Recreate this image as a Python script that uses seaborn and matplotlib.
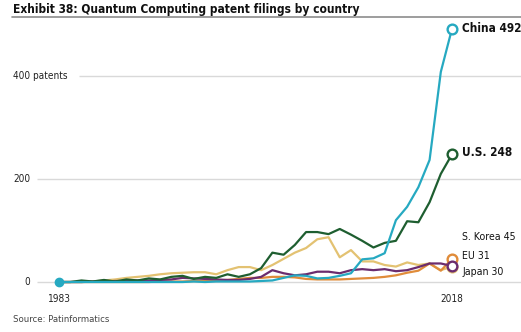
import matplotlib
matplotlib.use("Agg")
import matplotlib.pyplot as plt
import matplotlib.transforms as mtransforms
import seaborn as sns
import pandas as pd

# Annual quantum computing patent filings, 1983-2018
years = list(range(1983, 2019))
china = [0, 0, 0, 0, 0, 0, 0, 0, 0, 0, 0, 0, 1, 0, 1, 1, 1, 1, 2, 3,
         8, 13, 12, 7, 8, 12, 17, 44, 46, 56, 120, 146, 184, 237, 408, 492]
us = [0, 0, 3, 1, 4, 1, 5, 3, 7, 5, 10, 12, 6, 10, 8, 15, 10, 15, 27, 57,
      53, 72, 97, 97, 93, 103, 92, 80, 67, 76, 80, 118, 116, 155, 210, 248]
korea = [0, 0, 0, 0, 0, 0, 0, 0, 0, 1, 1, 1, 2, 2, 3, 4, 6, 8, 8, 10,
         10, 9, 6, 5, 5, 5, 6, 7, 8, 10, 13, 18, 22, 36, 22, 45]
eu = [0, 0, 0, 1, 1, 2, 2, 3, 3, 4, 5, 8, 7, 6, 5, 4, 4, 6, 10, 23,
      17, 13, 15, 20, 20, 17, 23, 25, 23, 25, 21, 23, 29, 36, 36, 31]
japan = [0, 0, 0, 1, 3, 5, 8, 10, 12, 15, 17, 18, 19, 19, 15, 23, 29, 29, 23, 33,
         45, 57, 66, 83, 87, 48, 62, 40, 40, 33, 30, 38, 33, 36, 23, 30]

countries = ["Japan", "S. Korea", "EU", "U.S.", "China"]
series = [japan, korea, eu, us, china]
colors = ["#E3C272", "#E08C3A", "#6B2C6E", "#1E5E30", "#26A9C1"]
end_labels = ["Japan 30", "S. Korea 45", "EU 31", "U.S. 248", "China 492"]
bold_labels = ["U.S. 248", "China 492"]
label_y = [19, 87, 51, 252, 492]   # label positions (data units), spread apart

y_ticks = [0, 200, 400]
y_tick_labels = ["0", "200", "400 patents"]
x_tick_years = [1983, 2018]

df = pd.DataFrame({
    "year": years * len(countries),
    "patents": sum(series, []),
    "country": sum([[c] * len(years) for c in countries], []),
})

sns.set_style("white")
plt.rcParams["font.family"] = ["DejaVu Sans"]
plt.rcParams["font.stretch"] = "condensed"

fig = plt.figure(figsize=(5.21, 3.32), dpi=100)
ax = fig.add_axes([37 / 521, 42 / 332, 484 / 521, 270 / 332])

x0, x1 = 1981.04, 2024.14
ax.set_xlim(x0, x1)
ax.set_ylim(-15.5, 508.7)

# horizontal gridlines
for t in y_ticks:
    start = x0 if t < 400 else 1984.8
    ax.hlines(t, start, x1, color="#D9D9D9", lw=1.0, zorder=0)

sns.lineplot(data=df, x="year", y="patents", hue="country",
             hue_order=countries, palette=dict(zip(countries, colors)),
             lw=1.6, legend=False, ax=ax, clip_on=False)

# start dot and end markers
ax.plot([years[0]], [0], "o", color=colors[-1], ms=6, zorder=6, clip_on=False)
for vals, col in zip(series, colors):
    ax.plot([years[-1]], [vals[-1]], "o", mfc="white", mec=col, mew=1.7,
            ms=7, zorder=7, clip_on=False)

for lab, ly in zip(end_labels, label_y):
    bold = lab in bold_labels
    ax.text(years[-1] + 0.9, ly, lab, fontsize=8.5 if bold else 7.6,
            fontweight="bold" if bold else "normal", color="#111111",
            va="center", ha="left", fontstretch="condensed")

for spine in ax.spines.values():
    spine.set_visible(False)
ax.set_xticks([])
ax.set_yticks([])
ax.set_xlabel("")
ax.set_ylabel("")

# y tick labels: x in figure pixels, y in data units
ytrans = mtransforms.blended_transform_factory(fig.transFigure, ax.transData)
for t, lab in zip(y_ticks, y_tick_labels):
    xpx = 24 if t == 0 else 13
    ax.text(xpx / 521, t, lab, transform=ytrans, fontsize=7.2,
            color="#222222", va="center", ha="left", fontstretch="condensed")

# x tick labels
for yr in x_tick_years:
    ax.text(yr, -33, str(yr), fontsize=7.2, color="#222222",
            ha="center", va="center", clip_on=False, fontstretch="condensed")

fig.text(13 / 521, 1 - 10 / 332, "Exhibit 38: Quantum Computing patent filings by country",
         fontsize=8.6, fontweight="bold", color="#111111", ha="left", va="center",
         fontstretch="condensed")
fig.add_artist(plt.Line2D([12 / 521, 1.0], [1 - 17 / 332, 1 - 17 / 332],
                          color="#8C8C8C", lw=1.2))
fig.text(13 / 521, 1 - 319 / 332, "Source: Patinformatics", fontsize=6.8,
         color="#444444", ha="left", va="center", fontstretch="condensed")

fig.savefig("out.png", dpi=100)
